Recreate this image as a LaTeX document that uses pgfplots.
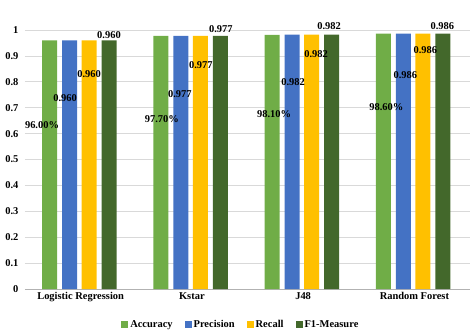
\documentclass[border=0pt]{standalone}
\usepackage{fontspec}
\setmainfont{Liberation Serif}
\usepackage{pgfplots}
\pgfplotsset{compat=1.18}
\definecolor{cAcc}{HTML}{70AD47}
\definecolor{cPre}{HTML}{4472C4}
\definecolor{cRec}{HTML}{FFC000}
\definecolor{cF1}{HTML}{43682B}
\begin{document}
\begin{tikzpicture}
\begin{axis}[name=ax, scale only axis, width=445bp, height=259bp,
  xmin=-0.5, xmax=3.5, ymin=0, ymax=1,
  xtick={0,1,2,3}, xticklabels={Logistic Regression,Kstar,J48,Random Forest},
  ytick={0,0.1,0.2,0.3,0.4,0.5,0.6,0.7,0.8,0.9,1},
  yticklabels={0,0.1,0.2,0.3,0.4,0.5,0.6,0.7,0.8,0.9,1},
  ymajorgrids, grid style={color=black!15, line width=0.6pt},
  axis x line*=bottom, axis y line*=left,
  y axis line style={draw=none},
  x axis line style={draw=black!30, line width=0.6pt},
  major tick length=0pt,
  tick label style={font=\bfseries\fontsize{10.5}{12}\selectfont},
  yticklabel style={xshift=-3bp},
  /pgf/number format/assume math mode=true,
  clip=false,
  legend style={at={(0.485,-0.105)}, anchor=north, legend columns=4, draw=none,
    font=\bfseries\fontsize{10.5}{12}\selectfont,
    /tikz/every even column/.append style={column sep=10bp}},
  legend image code/.code={\fill[#1] (0bp,-3.5bp) rectangle (7bp,3.5bp);},
]
\addplot[ybar, bar width=15bp, bar shift=-31bp, fill=cAcc, draw=none] coordinates {(0,0.960)(1,0.977)(2,0.981)(3,0.986)};
\addlegendentry{Accuracy}
\addplot[ybar, bar width=15bp, bar shift=-11bp, fill=cPre, draw=none] coordinates {(0,0.960)(1,0.977)(2,0.982)(3,0.986)};
\addlegendentry{Precision}
\addplot[ybar, bar width=15bp, bar shift=8.5bp, fill=cRec, draw=none] coordinates {(0,0.960)(1,0.977)(2,0.982)(3,0.986)};
\addlegendentry{Recall}
\addplot[ybar, bar width=15bp, bar shift=28.5bp, fill=cF1, draw=none] coordinates {(0,0.960)(1,0.977)(2,0.982)(3,0.986)};
\addlegendentry{F1-Measure}
\pgfplotsset{every node near coord/.style={anchor=center, font=\bfseries\fontsize{10.5}{12}\selectfont, inner sep=0pt}}
\addplot[draw=none, mark=none, forget plot, nodes near coords, point meta=explicit symbolic] coordinates {
 (-0.347,0.633)[96.00\%] (0.73,0.656)[97.70\%] (1.739,0.676)[98.10\%] (2.748,0.703)[98.60\%]};
\addplot[draw=none, mark=none, forget plot, nodes near coords, point meta=explicit symbolic] coordinates {
 (-0.140,0.737)[0.960] (0.892,0.753)[0.977] (1.91,0.80)[0.982] (2.919,0.826)[0.986]};
\addplot[draw=none, mark=none, forget plot, nodes near coords, point meta=explicit symbolic] coordinates {
 (0.076,0.830)[0.960] (1.081,0.865)[0.977] (2.117,0.907)[0.982] (3.099,0.923)[0.986]};
\addplot[draw=none, mark=none, forget plot, nodes near coords, point meta=explicit symbolic] coordinates {
 (0.255,0.98)[0.960] (1.261,1.004)[0.977] (2.234,1.015)[0.982] (3.252,1.015)[0.986]};
\end{axis}
\pgfresetboundingbox
\path ([xshift=-25bp,yshift=-43bp]ax.south west) rectangle ([xshift=4bp,yshift=30bp]ax.north east);
\end{tikzpicture}
\end{document}
